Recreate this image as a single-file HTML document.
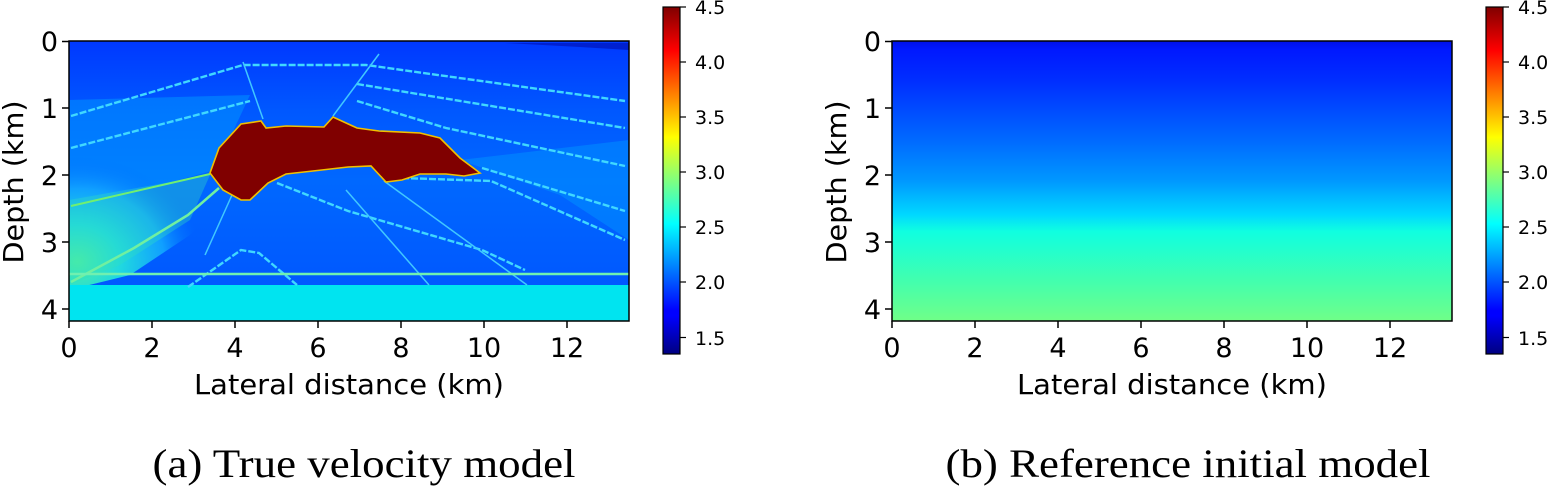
<!DOCTYPE html>
<html><head><meta charset="utf-8"><style>body{margin:0;background:#fff}svg{display:block}</style></head><body>
<svg width="1550" height="487" viewBox="0 0 1550 487" xmlns="http://www.w3.org/2000/svg" font-family="DejaVu Sans, sans-serif">
<defs>
<linearGradient id="jet" x1="0" y1="1" x2="0" y2="0">
<stop offset="0" stop-color="#000080"/><stop offset="0.11" stop-color="#0000ff"/><stop offset="0.125" stop-color="#0000ff"/>
<stop offset="0.375" stop-color="#00ffff"/><stop offset="0.625" stop-color="#ffff00"/><stop offset="0.875" stop-color="#ff0000"/><stop offset="1" stop-color="#800000"/>
</linearGradient>
<linearGradient id="init" x1="0" y1="0" x2="0" y2="1">
<stop offset="0" stop-color="#0010e8"/><stop offset="0.03" stop-color="#0018ff"/><stop offset="0.15" stop-color="#0030ff"/>
<stop offset="0.35" stop-color="#0068ff"/><stop offset="0.5" stop-color="#0098ff"/><stop offset="0.62" stop-color="#00d8ff"/>
<stop offset="0.68" stop-color="#10ffe0"/><stop offset="0.85" stop-color="#40ffb0"/><stop offset="1" stop-color="#70ff88"/>
</linearGradient>
<linearGradient id="bgL" x1="0" y1="0" x2="0" y2="1">
<stop offset="0" stop-color="#0038ff"/><stop offset="0.25" stop-color="#0058ff"/><stop offset="0.5" stop-color="#0068ff"/><stop offset="0.87" stop-color="#0058ff"/>
</linearGradient>
<radialGradient id="glow" cx="0.05" cy="0.8" r="0.75">
<stop offset="0" stop-color="#50f0a0"/><stop offset="0.35" stop-color="#20d8e0"/><stop offset="0.7" stop-color="#10a0ff"/><stop offset="1" stop-color="#0070ff" stop-opacity="0"/>
</radialGradient>
<clipPath id="cl"><rect x="69" y="41" width="560" height="280"/></clipPath>
</defs>

<g clip-path="url(#cl)">
<rect x="69" y="41" width="560" height="280" fill="url(#bgL)"/>
<polygon points="69,100 250,95 215,170 69,210" fill="#00a0ff" opacity="0.45"/>
<polygon points="69,150 210,165 235,190 190,235 130,275 69,290" fill="url(#glow)"/>
<polygon points="69,200 210,175 190,220 120,265 69,285" fill="#30e0c0" opacity="0.35"/>
<polygon points="460,160 560,195 629,240 629,140" fill="#0098ff" opacity="0.45"/>
<polygon points="505,43 629,43 629,50 580,47" fill="#0020d0"/>
<rect x="69" y="285" width="560" height="36" fill="#00e4f0"/>
<g fill="none" stroke="#40d8ff" stroke-width="2.4" stroke-dasharray="7,2">
<polyline points="71,116 243,65 259,65 366,65 625,101"/>
<polyline points="71,148 250,101"/>
<polyline points="357,84 625,128"/>
<polyline points="357,101 446,128 625,166"/>
<polyline points="277,183 348,211 482,250 525,270"/>
<polyline points="402,178 491,181 625,240"/>
<polyline points="482,168 625,211"/>
<polyline points="188,287 241,250 259,253 297,285"/>
</g>
<g fill="none" stroke="#40c8ff" stroke-width="1.5">
<polyline points="243,62 263,119"/><polyline points="379,54 333,116"/>
<polyline points="346,190 429,285"/><polyline points="384,181 527,285"/><polyline points="232,195 205,255"/>
</g>
<polyline points="71,206 210,174" fill="none" stroke="#70f070" stroke-width="2"/>
<polyline points="71,282 134,248 188,215 219,188" fill="none" stroke="#70f0a0" stroke-width="2.5"/>
<line x1="69" y1="274" x2="629" y2="274" stroke="#70f0b0" stroke-width="2.5"/>
<polygon points="210,173 219,148 241,124 261,121 266,128 286,126 324,127 333,117 357,128 379,131 420,133 440,138 460,158 480,173 464,176 446,174 420,174 402,180 386,182 371,166 348,167 313,171 286,174 268,183 250,200 241,200 223,190" fill="#800000" stroke="#f0c000" stroke-width="1.6"/>
</g>
<rect x="69" y="41" width="560" height="280" fill="none" stroke="#000" stroke-width="1.5"/>
<g stroke="#000" stroke-width="1.5">
<line x1="69" y1="321" x2="69" y2="328"/><line x1="152" y1="321" x2="152" y2="328"/><line x1="235" y1="321" x2="235" y2="328"/><line x1="318" y1="321" x2="318" y2="328"/><line x1="401" y1="321" x2="401" y2="328"/><line x1="484" y1="321" x2="484" y2="328"/><line x1="567" y1="321" x2="567" y2="328"/>
<line x1="62" y1="41.5" x2="69" y2="41.5"/><line x1="62" y1="108" x2="69" y2="108"/><line x1="62" y1="175" x2="69" y2="175"/><line x1="62" y1="242" x2="69" y2="242"/><line x1="62" y1="309" x2="69" y2="309"/>
</g>
<g font-size="27" text-anchor="middle">
<text x="69" y="357">0</text><text x="152" y="357">2</text><text x="235" y="357">4</text><text x="318" y="357">6</text><text x="401" y="357">8</text><text x="484" y="357">10</text><text x="567" y="357">12</text>
</g>
<g font-size="27" text-anchor="end">
<text x="58" y="51">0</text><text x="58" y="118">1</text><text x="58" y="185">2</text><text x="58" y="252">3</text><text x="58" y="319">4</text>
</g>
<text x="349" y="394" font-size="28" text-anchor="middle" textLength="310" lengthAdjust="spacingAndGlyphs">Lateral distance (km)</text>
<text transform="translate(23,182) rotate(-90)" font-size="28" text-anchor="middle" textLength="163" lengthAdjust="spacingAndGlyphs">Depth (km)</text>
<rect x="663" y="7" width="17" height="347" fill="url(#jet)" stroke="#000" stroke-width="1.2"/>
<g stroke="#000" stroke-width="1.2">
<line x1="680" y1="337.5" x2="686" y2="337.5"/><line x1="680" y1="282" x2="686" y2="282"/><line x1="680" y1="227" x2="686" y2="227"/><line x1="680" y1="172" x2="686" y2="172"/><line x1="680" y1="117" x2="686" y2="117"/><line x1="680" y1="62" x2="686" y2="62"/><line x1="680" y1="7" x2="686" y2="7"/>
</g>
<g font-size="19">
<text x="695" y="345">1.5</text><text x="695" y="289">2.0</text><text x="695" y="234">2.5</text><text x="695" y="179">3.0</text><text x="695" y="124">3.5</text><text x="695" y="69">4.0</text><text x="695" y="14">4.5</text>
</g>
<text x="364" y="477" font-family="Liberation Serif, serif" font-size="40" text-anchor="middle" textLength="423" lengthAdjust="spacingAndGlyphs">(a) True velocity model</text>

<rect x="892" y="41" width="560" height="280" fill="url(#init)"/>
<rect x="892" y="41" width="560" height="280" fill="none" stroke="#000" stroke-width="1.5"/>
<g stroke="#000" stroke-width="1.5">
<line x1="892" y1="321" x2="892" y2="328"/><line x1="975" y1="321" x2="975" y2="328"/><line x1="1058" y1="321" x2="1058" y2="328"/><line x1="1141" y1="321" x2="1141" y2="328"/><line x1="1224" y1="321" x2="1224" y2="328"/><line x1="1307" y1="321" x2="1307" y2="328"/><line x1="1390" y1="321" x2="1390" y2="328"/>
<line x1="885" y1="41.5" x2="892" y2="41.5"/><line x1="885" y1="108" x2="892" y2="108"/><line x1="885" y1="175" x2="892" y2="175"/><line x1="885" y1="242" x2="892" y2="242"/><line x1="885" y1="309" x2="892" y2="309"/>
</g>
<g font-size="27" text-anchor="middle">
<text x="892" y="357">0</text><text x="975" y="357">2</text><text x="1058" y="357">4</text><text x="1141" y="357">6</text><text x="1224" y="357">8</text><text x="1307" y="357">10</text><text x="1390" y="357">12</text>
</g>
<g font-size="27" text-anchor="end">
<text x="881" y="51">0</text><text x="881" y="118">1</text><text x="881" y="185">2</text><text x="881" y="252">3</text><text x="881" y="319">4</text>
</g>
<text x="1172" y="394" font-size="28" text-anchor="middle" textLength="310" lengthAdjust="spacingAndGlyphs">Lateral distance (km)</text>
<text transform="translate(846,182) rotate(-90)" font-size="28" text-anchor="middle" textLength="163" lengthAdjust="spacingAndGlyphs">Depth (km)</text>
<rect x="1486" y="7" width="17" height="347" fill="url(#jet)" stroke="#000" stroke-width="1.2"/>
<g stroke="#000" stroke-width="1.2">
<line x1="1503" y1="337.5" x2="1509" y2="337.5"/><line x1="1503" y1="282" x2="1509" y2="282"/><line x1="1503" y1="227" x2="1509" y2="227"/><line x1="1503" y1="172" x2="1509" y2="172"/><line x1="1503" y1="117" x2="1509" y2="117"/><line x1="1503" y1="62" x2="1509" y2="62"/><line x1="1503" y1="7" x2="1509" y2="7"/>
</g>
<g font-size="19">
<text x="1518" y="345">1.5</text><text x="1518" y="289">2.0</text><text x="1518" y="234">2.5</text><text x="1518" y="179">3.0</text><text x="1518" y="124">3.5</text><text x="1518" y="69">4.0</text><text x="1518" y="14">4.5</text>
</g>
<text x="1188" y="477" font-family="Liberation Serif, serif" font-size="40" text-anchor="middle" textLength="485" lengthAdjust="spacingAndGlyphs">(b) Reference initial model</text>
</svg>
</body></html>
